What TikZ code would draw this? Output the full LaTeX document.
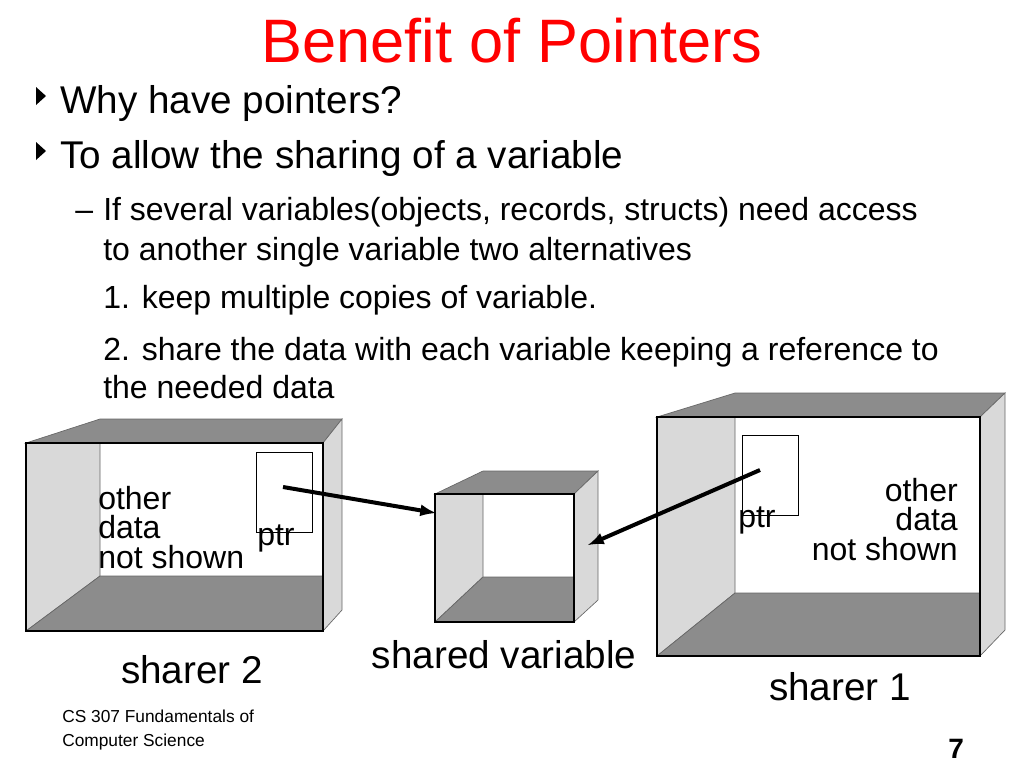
\documentclass[tikz,border=0pt]{standalone}
\usepackage{fontspec}
\setmainfont{Liberation Sans}
\usepackage{tikz}
\usetikzlibrary{positioning}

\tikzset{
	lightwall/.style={fill=black!15,draw=black!60,line width=0.5pt},
	darkwall/.style={fill=black!45,draw=black!60,line width=0.5pt},
	txt/.style={inner sep=0pt,anchor=base west,font=\fontsize{24}{22}\selectfont},
	ptrbox/.style={draw,line width=0.8pt,minimum width=42,minimum height=60,inner sep=0pt}
}

% crate: front x1,y1,x2,y2; back top y; back left x; back right x; inner bottom y; right bottom y
\newcommand{\crate}[9]{
	\fill[white] (#7,#2) rectangle (#3,#8);
	\draw[lightwall] (#1,#2) -- (#7,#2) -- (#7,#8) -- (#1,#4) -- cycle;
	\draw[darkwall] (#1,#4) -- (#7,#8) -- (#3,#8) -- (#3,#4) -- cycle;
	\draw[darkwall] (#1,#2) -- (#7,#6) -- (#5,#6) -- (#3,#2) -- cycle;
	\draw[lightwall] (#3,#2) -- (#5,#6) -- (#5,#9) -- (#3,#4) -- cycle;
	\draw[line width=1.5pt] (#1,#2) rectangle (#3,#4);
}

\begin{document}
\begin{tikzpicture}[x=0.75pt,y=-0.75pt]
	\useasboundingbox (0,0) rectangle (1024,768);
	
	\node (title) [inner sep=0pt,anchor=base,text=red,font=\fontsize{46}{50}\selectfont] at (512,62) {Benefit of Pointers};
	
	\foreach \y/\t [count=\i] in {113/Why have pointers?,168/To allow the sharing of a variable}{
		\fill (36,\y-26) -- (46,\y-17) -- (36,\y-8) -- cycle;
		\node (b\i) [txt,font=\fontsize{29}{34}\selectfont] at (60,\y) {\t};
	}
	\node (dash) [txt] at (75,220) {–};
	\node (s1) [txt] at (103,220) {If several variables(objects, records, structs) need access};
	\node (s2) [txt] at (103,260) {to another single variable two alternatives};
	\node (s3) [txt] at (103,308) {1. keep multiple copies of variable.};
	\node (s4) [txt] at (103,360) {2. share the data with each variable keeping a reference to};
	\node (s5) [txt] at (103,398) {the needed data};
	
	% the three boxes
	\crate{26}{443}{323}{631}{342}{419}{100}{576}{610}
	\crate{435}{494}{574}{622}{598}{471}{483}{577}{600}
	\crate{657}{417}{980}{656}{1005}{393}{735}{593}{630}
	
	\node (p2) [ptrbox,anchor=north west] at (256,452) {};
	\node (p1) [ptrbox,anchor=north west] at (742,435) {};
	\coordinate (p2x) at (283,487);
	\coordinate (p1x) at (760,470);
	\coordinate (sv2) at (436,513);
	\coordinate (sv1) at (588,545);
	\draw[line width=3pt,-latex] (p2x) -- (sv2);
	\draw[line width=3pt,-latex] (p1x) -- (sv1);
	
	\node (o2) [txt,align=left,anchor=north west] at (98,486) {other\\data\\not shown};
	\node (ptr2) [txt] at (257,545) {ptr};
	\node (o1) [txt,align=right,anchor=north east] at (958,478) {other\\data\\not shown};
	\node (ptr1) [txt] at (738,527) {ptr};
	
	\node (l2) [txt,anchor=base,font=\fontsize{29}{34}\selectfont] at (192,683) {sharer 2};
	\node (lv) [txt,anchor=base,font=\fontsize{29}{34}\selectfont] at (504,668) {shared variable};
	\node (l1) [txt,anchor=base,font=\fontsize{29}{34}\selectfont] at (840,700) {sharer 1};
	
	\node (foot) [txt,align=left,anchor=north west,font=\fontsize{13}{18}\selectfont] at (62,710) {CS 307 Fundamentals of\\Computer Science};
	\node (page) [txt,font=\bfseries\fontsize{21}{24}\selectfont] at (948,758) {7};
\end{tikzpicture}
\end{document}
